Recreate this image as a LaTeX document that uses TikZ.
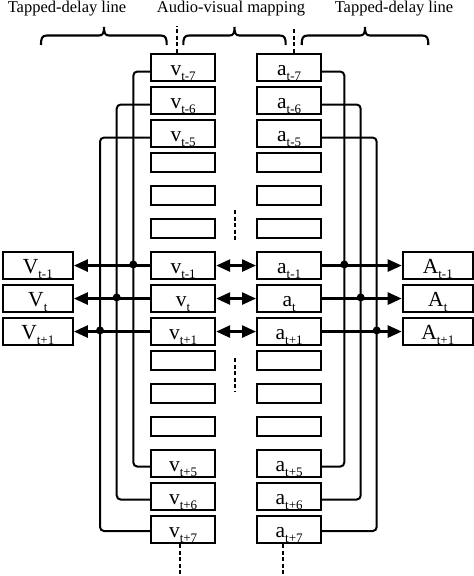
\documentclass[tikz,border=0pt]{standalone}
\usepackage{fontspec}
\setmainfont{Liberation Serif}
\usetikzlibrary{arrows.meta}
\newcommand{\lbl}[2]{{\fontsize{21.5}{21.5}\selectfont #1}\raisebox{-5pt}{\fontsize{13}{13}\selectfont #2}}
\newcommand{\mybrace}[3]{%
 \draw[brc] (#1,45) .. controls (#1,38) and (#1+1,35.5) .. (#1+6,35.5) -- (#3-5,35.5) .. controls (#3-1,35.5) and (#3,33) .. (#3,27) .. controls (#3,33) and (#3+1,35.5) .. (#3+5,35.5) -- (#2-6,35.5) .. controls (#2-1,35.5) and (#2,38) .. (#2,45);}
\begin{document}
\begin{tikzpicture}[x=1pt,y=-1pt,
 cell/.style={draw, line width=2.2pt, minimum width=64pt, minimum height=27.5pt, inner sep=0pt, anchor=north west},
 ecell/.style={cell, minimum height=19pt},
 outcell/.style={cell, minimum width=70pt},
 txt/.style={anchor=base, inner sep=0pt},
 arr/.style={line width=2.6pt, -{Triangle[length=14pt,width=12pt]}},
 darr/.style={line width=2.6pt, {Triangle[length=14pt,width=12pt]}-{Triangle[length=14pt,width=12pt]}},
 bus/.style={line width=2pt, rounded corners=4pt},
 dot/.style={circle, fill, inner sep=0pt, minimum size=8pt},
 dsh/.style={line width=2pt, dash pattern=on 4pt off 2.5pt},
 brc/.style={line width=2.1pt},
 hdr/.style={font=\fontsize{16.5}{16.5}\selectfont, anchor=base, inner sep=0pt}
]
\useasboundingbox (0,0) rectangle (474,576);

% headers and braces
\node[hdr] (h1) at (67,12.3) {Tapped-delay line};
\node[hdr] (h2) at (231,12.3) {Audio-visual mapping};
\node[hdr] (h3) at (394,12.3) {Tapped-delay line};
\mybrace{41}{166.7}{104}
\mybrace{183.3}{285.7}{234.5}
\mybrace{301.7}{428.3}{365}

% columns
\foreach \k/\n/\s in {0/m7/t-7, 1/m6/t-6, 2/m5/t-5, 6/m1/t-1, 7/z/t, 8/p1/t+1, 12/p5/t+5, 13/p6/t+6, 14/p7/t+7} {
  \node[cell] (v\n) at (150, 52.7+33*\k) {};
  \node[txt] (vt\n) at ([yshift=6.5pt]v\n.south) {\lbl{v}{\s}};
  \node[cell] (a\n) at (256, 52.7+33*\k) {};
  \node[txt] (at\n) at ([yshift=6.5pt]a\n.south) {\lbl{a}{\s}};
}
\foreach \k in {3,4,5,9,10,11} {
  \node[ecell] (ve\k) at (150, 52.7+33*\k) {};
  \node[ecell] (ae\k) at (256, 52.7+33*\k) {};
}

% outputs
\foreach \k/\n/\s in {6/m1/t-1, 7/z/t, 8/p1/t+1} {
  \node[outcell] (V\n) at (1.7, 52.7+33*\k) {};
  \node[txt] (Vt\n) at ([yshift=6.5pt]V\n.south) {\lbl{V}{\s}};
  \node[outcell] (A\n) at (401.7, 52.7+33*\k) {};
  \node[txt] (At\n) at ([yshift=6.5pt]A\n.south) {\lbl{A}{\s}};
}

% bus coordinates
\coordinate (bL1) at (133.3,264.45);
\coordinate (bL2) at (116.7,297.45);
\coordinate (bL3) at (100,330.45);
\coordinate (bR1) at (344.3,264.45);
\coordinate (bR2) at (360.7,297.45);
\coordinate (bR3) at (376.7,330.45);

\draw[bus] ([yshift=-4pt]vm7.west) -| (bL1) |- ([yshift=-3pt]vp5.west);
\draw[bus] ([yshift=-4pt]vm6.west) -| (bL2) |- ([yshift=-3pt]vp6.west);
\draw[bus] ([yshift=-4pt]vm5.west) -| (bL3) |- ([yshift=-1.5pt]vp7.west);
\draw[bus] ([yshift=-4pt]am7.east) -| (bR1) |- ([yshift=-3pt]ap5.east);
\draw[bus] ([yshift=-4pt]am6.east) -| (bR2) |- ([yshift=-3pt]ap6.east);
\draw[bus] ([yshift=-4pt]am5.east) -| (bR3) |- ([yshift=-1.5pt]ap7.east);

% arrows
\foreach \n in {m1,z,p1} {
  \draw[arr] (v\n.west) -- (V\n.east);
  \draw[darr] (v\n.east) -- (a\n.west);
  \draw[arr] (a\n.east) -- (A\n.west);
}
\node[dot] (dL1) at (bL1) {};
\node[dot] (dL2) at (bL2) {};
\node[dot] (dL3) at (bL3) {};
\node[dot] (dR1) at (bR1) {};
\node[dot] (dR2) at (bR2) {};
\node[dot] (dR3) at (bR3) {};

% dashed separators
\draw[dsh] ([xshift=-6pt]vm7.north) -- ++(0,-27);
\draw[dsh] ([xshift=5.3pt]am7.north) -- ++(0,-25);
\draw[dsh] (235,210) -- (235,242);
\draw[dsh] (235,358) -- (235,391);
\draw[dsh] ([xshift=-3pt]vp7.south) -- ++(0,34);
\draw[dsh] ([xshift=-6.5pt]ap7.south) -- ++(0,34);
\end{tikzpicture}
\end{document}
